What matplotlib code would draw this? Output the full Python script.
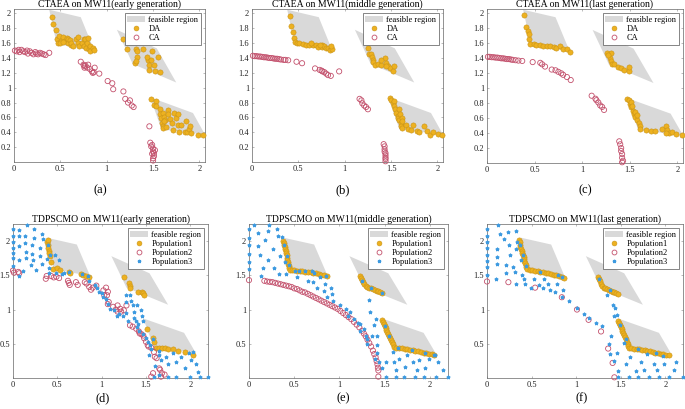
import matplotlib
matplotlib.use('Agg')
import matplotlib.pyplot as plt
from matplotlib.patches import Polygon, Patch

plt.rcParams['font.family'] = ['Liberation Serif', 'DejaVu Serif']

# feasible region of MW11 (three patches)
region1 = [(0.38, 2.05), (0.72, 1.95), (0.87, 1.49), (0.46, 1.59)]
region2 = [(1.11, 1.78), (1.54, 1.53), (1.75, 1.07), (1.28, 1.32)]
region3 = [(1.47, 0.87), (1.93, 0.66), (2.06, 0.37), (1.59, 0.44)]

# ---- (a) CTAEA early generation ----
a_da = [(0.41, 1.955), (0.42, 1.86), (0.45, 1.78), (0.46, 1.65), (0.47, 1.60), (0.49, 1.69),
        (0.51, 1.63), (0.53, 1.68), (0.55, 1.63), (0.57, 1.67), (0.58, 1.60), (0.58, 1.65),
        (0.60, 1.64), (0.61, 1.58), (0.62, 1.60), (0.64, 1.56), (0.67, 1.65), (0.69, 1.60),
        (0.69, 1.68), (0.70, 1.56), (0.73, 1.60), (0.75, 1.66), (0.76, 1.56), (0.77, 1.65),
        (0.78, 1.54), (0.79, 1.60), (0.81, 1.52), (0.82, 1.56), (0.82, 1.50), (0.85, 1.54),
        (0.86, 1.51), (0.80, 1.67), (0.50, 1.60), (0.53, 1.61),
        (1.18, 1.66), (1.25, 1.65), (1.22, 1.52), (1.32, 1.52), (1.33, 1.49), (1.39, 1.52),
        (1.33, 1.42), (1.31, 1.33), (1.32, 1.36), (1.44, 1.38), (1.43, 1.41), (1.49, 1.49),
        (1.48, 1.38), (1.46, 1.30), (1.46, 1.24), (1.51, 1.30), (1.52, 1.23), (1.57, 1.21),
        (1.55, 1.42),
        (1.48, 0.85), (1.51, 0.77), (1.53, 0.82), (1.53, 0.76), (1.57, 0.71), (1.58, 0.64),
        (1.59, 0.59), (1.60, 0.53), (1.61, 0.49), (1.61, 0.46), (1.61, 0.66), (1.62, 0.61),
        (1.63, 0.57), (1.62, 0.55), (1.64, 0.47), (1.66, 0.70), (1.66, 0.65), (1.68, 0.58),
        (1.70, 0.52), (1.71, 0.43), (1.73, 0.66), (1.75, 0.59), (1.77, 0.50), (1.78, 0.41),
        (1.80, 0.50), (1.84, 0.41), (1.86, 0.55), (1.87, 0.41), (1.89, 0.45), (1.90, 0.48),
        (1.91, 0.39), (1.98, 0.37), (2.04, 0.37), (1.77, 0.65)]
a_ca = [(0.01, 1.50), (0.03, 1.49), (0.05, 1.51), (0.06, 1.48), (0.08, 1.51), (0.10, 1.49),
        (0.12, 1.48), (0.14, 1.50), (0.15, 1.46), (0.17, 1.49), (0.19, 1.47), (0.21, 1.45),
        (0.23, 1.48), (0.24, 1.46), (0.26, 1.45), (0.28, 1.47), (0.30, 1.46), (0.32, 1.45),
        (0.34, 1.44), (0.38, 1.47),
        (0.72, 1.35), (0.75, 1.31), (0.76, 1.29), (0.77, 1.30), (0.79, 1.27), (0.80, 1.31),
        (0.82, 1.25), (0.84, 1.22), (0.86, 1.21), (0.87, 1.27), (0.92, 1.19), (0.76, 1.27),
        (0.85, 1.20),
        (1.01, 1.09), (1.06, 1.06), (1.07, 0.98), (1.18, 0.95), (1.20, 0.85), (1.23, 0.80),
        (1.25, 0.83), (1.27, 0.76), (1.29, 0.74),
        (1.46, 0.48), (1.47, 0.26), (1.49, 0.23), (1.50, 0.18), (1.48, 0.21), (1.50, 0.14),
        (1.49, 0.11), (1.51, 0.08), (1.50, 0.05), (1.50, 0.02), (1.52, 0.16), (1.51, 0.12)]

# ---- (b) CTAEA middle generation ----
b_da = [(0.405, 1.97), (0.42, 1.83), (0.44, 1.75), (0.45, 1.67), (0.46, 1.62), (0.48, 1.60),
        (0.51, 1.60), (0.55, 1.59), (0.58, 1.58), (0.62, 1.58), (0.66, 1.58), (0.69, 1.58),
        (0.71, 1.55), (0.75, 1.57), (0.76, 1.55), (0.78, 1.56), (0.80, 1.54), (0.82, 1.53),
        (0.84, 1.51), (0.86, 1.52), (0.85, 1.56), (0.73, 1.58), (0.64, 1.60),
        (1.25, 1.53), (1.26, 1.46), (1.28, 1.46), (1.29, 1.42), (1.30, 1.37), (1.31, 1.35),
        (1.33, 1.31), (1.36, 1.32), (1.39, 1.31), (1.43, 1.40), (1.45, 1.33), (1.47, 1.29),
        (1.49, 1.26), (1.52, 1.23), (1.53, 1.29), (1.45, 1.29), (1.39, 1.37),
        (1.49, 0.86), (1.50, 0.84), (1.52, 0.79), (1.53, 0.82), (1.53, 0.75), (1.54, 0.71),
        (1.55, 0.66), (1.57, 0.62), (1.58, 0.59), (1.59, 0.56), (1.61, 0.53), (1.61, 0.49),
        (1.62, 0.46), (1.59, 0.71), (1.60, 0.65), (1.62, 0.59), (1.66, 0.50), (1.68, 0.44),
        (1.71, 0.43), (1.74, 0.50), (1.78, 0.42), (1.80, 0.40), (1.86, 0.49), (1.89, 0.42),
        (1.92, 0.37), (1.95, 0.40), (2.01, 0.38), (2.05, 0.37), (1.62, 0.55)]
b_ca = [(0.01, 1.43), (0.03, 1.425), (0.05, 1.425), (0.07, 1.42), (0.09, 1.42), (0.11, 1.415),
        (0.13, 1.41), (0.15, 1.41), (0.17, 1.405), (0.19, 1.40), (0.21, 1.40), (0.23, 1.395),
        (0.25, 1.39), (0.27, 1.39), (0.29, 1.385), (0.31, 1.38), (0.34, 1.375), (0.36, 1.375),
        (0.39, 1.37), (0.48, 1.35), (0.54, 1.33),
        (0.68, 1.26), (0.73, 1.24), (0.75, 1.23), (0.76, 1.22), (0.78, 1.21), (0.80, 1.19),
        (0.82, 1.17), (0.85, 1.16), (0.94, 1.22),
        (1.16, 0.85), (1.18, 0.83), (1.19, 0.79), (1.21, 0.76), (1.23, 0.74), (1.25, 0.71),
        (1.42, 0.24), (1.43, 0.21), (1.43, 0.17), (1.44, 0.12), (1.44, 0.09), (1.44, 0.04),
        (1.44, 0.01), (1.43, 0.14), (1.44, 0.06)]

# ---- (c) CTAEA last generation ----
c_da = [(0.39, 1.98), (0.41, 1.82), (0.43, 1.76), (0.44, 1.66), (0.45, 1.59), (0.49, 1.59),
        (0.52, 1.58), (0.56, 1.58), (0.59, 1.57), (0.63, 1.56), (0.66, 1.56), (0.70, 1.55),
        (0.73, 1.54), (0.77, 1.56), (0.80, 1.53), (0.84, 1.52), (0.87, 1.49), (0.44, 1.73),
        (1.26, 1.47), (1.30, 1.47), (1.29, 1.40), (1.30, 1.36), (1.31, 1.32), (1.34, 1.32),
        (1.38, 1.29), (1.41, 1.27), (1.44, 1.25), (1.49, 1.23), (1.49, 1.28), (1.27, 1.44),
        (1.47, 0.86), (1.49, 0.84), (1.50, 0.79), (1.51, 0.75), (1.53, 0.70), (1.54, 0.66),
        (1.56, 0.62), (1.58, 0.57), (1.60, 0.53), (1.61, 0.50), (1.61, 0.46), (1.51, 0.81),
        (1.52, 0.76), (1.56, 0.68), (1.58, 0.64), (1.67, 0.44), (1.72, 0.43), (1.77, 0.43),
        (1.84, 0.45), (1.88, 0.49), (1.89, 0.44), (1.91, 0.40), (1.94, 0.41), (1.99, 0.39),
        (2.05, 0.37), (1.88, 0.40)]
c_ca = [(0.01, 1.42), (0.03, 1.42), (0.05, 1.415), (0.07, 1.415), (0.09, 1.41), (0.11, 1.41),
        (0.13, 1.405), (0.15, 1.40), (0.17, 1.40), (0.19, 1.395), (0.21, 1.39), (0.23, 1.39),
        (0.25, 1.385), (0.27, 1.38), (0.30, 1.375), (0.33, 1.37), (0.37, 1.365),
        (0.48, 1.35), (0.56, 1.34), (0.58, 1.32), (0.61, 1.29), (0.68, 1.25), (0.72, 1.24),
        (0.75, 1.22), (0.78, 1.20), (0.80, 1.18), (0.84, 1.15), (0.88, 1.11),
        (1.10, 0.90), (1.14, 0.86), (1.15, 0.84), (1.17, 0.81), (1.19, 0.77), (1.21, 0.75),
        (1.23, 0.71),
        (1.39, 0.29), (1.40, 0.25), (1.41, 0.20), (1.41, 0.16), (1.42, 0.12), (1.42, 0.07),
        (1.43, 0.03), (1.42, 0.01)]

# ---- (d) TDPSCMO early generation ----
d_p1 = [(0.38, 1.98), (0.39, 2.01), (0.39, 1.94), (0.40, 1.90), (0.41, 1.86), (0.41, 1.83),
        (0.42, 1.78), (0.43, 1.70), (0.45, 1.59), (0.50, 1.61), (0.53, 1.58), (0.63, 1.55),
        (0.64, 1.54), (0.77, 1.52), (0.79, 1.51), (0.82, 1.49), (0.86, 1.48),
        (1.25, 1.48), (1.31, 1.39), (1.32, 1.35), (1.32, 1.32), (1.41, 1.26), (1.45, 1.25),
        (1.47, 1.24), (1.48, 1.21),
        (1.51, 0.72), (1.58, 0.58), (1.59, 0.53), (1.61, 0.44), (1.65, 0.44), (1.68, 0.44),
        (1.71, 0.44), (1.75, 0.43), (1.80, 0.42), (1.86, 0.40), (1.94, 0.38), (2.03, 0.34)]
d_p2 = [(0.00, 1.57), (0.01, 1.54), (0.06, 1.55), (0.07, 1.53), (0.37, 1.45), (0.38, 1.49),
        (0.43, 1.49), (0.46, 1.47), (0.49, 1.48), (0.52, 1.46), (0.62, 1.42), (0.63, 1.39),
        (0.64, 1.36), (0.71, 1.40), (0.73, 1.36), (0.81, 1.40), (0.83, 1.38), (0.86, 1.33),
        (0.88, 1.29), (0.90, 1.32), (0.94, 1.35), (1.02, 1.28), (1.03, 1.21), (1.05, 1.32),
        (1.07, 1.26), (1.06, 1.21), (1.08, 1.11), (1.07, 1.08), (1.13, 1.04), (1.16, 1.00),
        (1.18, 0.97), (1.18, 1.06), (1.22, 0.97), (1.25, 0.99), (1.28, 1.06), (1.21, 1.01),
        (1.32, 0.77), (1.35, 0.75), (1.39, 0.72), (1.42, 0.68), (1.43, 0.65), (1.45, 0.64),
        (1.47, 0.62), (1.48, 0.58), (1.50, 0.53), (1.52, 0.48), (1.56, 0.44), (1.59, 0.38),
        (1.60, 0.31), (1.62, 0.29), (1.58, 0.07), (1.65, 0.14), (1.66, 0.12), (1.68, 0.07),
        (1.71, 0.05), (1.67, 0.02), (1.56, 0.02), (1.53, 0.46)]
d_p3 = [(0.00, 2.17), (0.00, 2.07), (0.00, 1.99), (0.00, 1.90), (0.00, 1.83), (0.00, 1.76),
        (0.00, 1.64), (0.07, 2.16), (0.07, 2.08), (0.07, 1.93), (0.07, 1.73), (0.07, 1.49),
        (0.14, 2.08), (0.14, 1.97), (0.15, 1.84), (0.15, 1.76), (0.16, 2.23), (0.21, 1.95),
        (0.21, 1.81), (0.20, 1.65), (0.23, 1.73), (0.24, 2.17), (0.24, 2.05), (0.26, 1.58),
        (0.30, 1.90), (0.31, 1.78), (0.33, 2.11), (0.34, 2.03), (0.33, 1.66), (0.38, 1.74),
        (0.41, 1.61), (0.41, 1.53), (0.11, 1.57), (0.47, 1.79), (0.48, 1.54), (0.52, 1.72),
        (0.55, 1.52), (0.58, 1.54), (0.63, 1.55), (0.78, 1.52), (0.85, 1.49), (0.86, 1.41),
        (0.93, 1.36), (0.95, 1.32), (0.97, 1.26), (1.00, 1.24), (1.02, 1.19), (1.05, 1.15),
        (1.07, 1.08), (1.09, 1.01), (1.14, 0.99), (1.17, 0.91), (1.20, 0.94), (1.24, 0.91),
        (1.28, 0.95), (1.27, 1.21), (1.28, 1.11), (1.32, 1.21), (1.33, 1.12), (1.35, 1.06),
        (1.36, 0.96), (1.37, 0.88), (1.39, 0.84), (1.40, 1.06), (1.44, 1.00), (1.45, 0.91),
        (1.47, 0.84), (1.41, 0.79), (1.30, 0.84), (1.40, 0.75), (1.42, 0.68), (1.47, 0.65),
        (1.50, 0.58), (1.52, 0.53), (1.54, 0.48), (1.56, 0.42), (1.53, 0.34), (1.65, 0.34),
        (1.67, 0.26), (1.73, 0.31), (1.75, 0.20), (1.80, 0.36), (1.84, 0.24), (1.90, 0.31),
        (1.94, 0.14), (1.98, 0.36), (2.01, 0.26), (2.03, 0.38), (2.07, 0.20), (2.09, 0.09),
        (2.11, 0.02), (2.20, 0.02), (2.00, 0.02), (1.84, 0.02), (1.75, 0.02), (1.59, 0.02),
        (1.65, 0.05), (1.60, 0.17), (1.65, 0.39), (1.58, 0.57), (0.39, 1.95), (0.42, 1.80)]

# ---- (e) TDPSCMO middle generation ----
e_p1 = [(0.38, 2.00), (0.385, 1.97), (0.39, 1.94), (0.395, 1.91), (0.40, 1.88), (0.405, 1.85),
        (0.41, 1.82), (0.415, 1.79), (0.42, 1.76), (0.425, 1.73), (0.43, 1.70), (0.435, 1.67),
        (0.44, 1.64), (0.445, 1.61), (0.45, 1.585), (0.47, 1.58), (0.50, 1.575), (0.53, 1.57),
        (0.56, 1.565), (0.59, 1.56), (0.62, 1.555), (0.65, 1.55), (0.68, 1.545), (0.71, 1.54),
        (0.74, 1.53), (0.77, 1.52), (0.80, 1.51), (0.83, 1.50), (0.86, 1.485),
        (1.23, 1.49), (1.24, 1.46), (1.25, 1.43), (1.26, 1.40), (1.27, 1.37), (1.29, 1.345),
        (1.31, 1.33), (1.33, 1.32), (1.35, 1.31), (1.37, 1.30), (1.39, 1.29), (1.41, 1.275),
        (1.43, 1.265), (1.45, 1.25), (1.47, 1.24),
        (1.47, 0.85), (1.48, 0.82), (1.49, 0.79), (1.50, 0.76), (1.51, 0.73), (1.52, 0.70),
        (1.53, 0.67), (1.54, 0.64), (1.55, 0.61), (1.56, 0.58), (1.57, 0.55), (1.58, 0.52),
        (1.59, 0.49), (1.60, 0.46), (1.63, 0.445), (1.66, 0.44), (1.69, 0.435), (1.72, 0.43),
        (1.75, 0.42), (1.78, 0.415), (1.81, 0.41), (1.84, 0.40), (1.87, 0.39), (1.90, 0.38),
        (1.93, 0.37), (1.96, 0.36), (1.99, 0.355), (2.02, 0.345), (2.04, 0.34)]
e_p2 = [(0.00, 1.43), (0.17, 1.42), (0.20, 1.41), (0.23, 1.405), (0.26, 1.40), (0.29, 1.39),
        (0.32, 1.38), (0.35, 1.37), (0.38, 1.36), (0.41, 1.35), (0.44, 1.34), (0.47, 1.33),
        (0.50, 1.31), (0.53, 1.30), (0.56, 1.28), (0.59, 1.26), (0.62, 1.25), (0.65, 1.23),
        (0.68, 1.21), (0.71, 1.19), (0.74, 1.17), (0.77, 1.15), (0.80, 1.13), (0.83, 1.11),
        (0.86, 1.09), (0.89, 1.07), (0.92, 1.05), (0.95, 1.03), (0.98, 1.01), (1.01, 0.98),
        (1.04, 0.95), (1.07, 0.92), (1.10, 0.89), (1.13, 0.86), (1.16, 0.82), (1.19, 0.78),
        (1.22, 0.74), (1.25, 0.69), (1.27, 0.65), (1.29, 0.61), (1.31, 0.56), (1.33, 0.51),
        (1.35, 0.46), (1.37, 0.40), (1.385, 0.35), (1.40, 0.30), (1.41, 0.25), (1.42, 0.20),
        (1.425, 0.15), (1.43, 0.11), (1.43, 0.02)]
e_p3 = [(0.00, 2.17), (0.00, 2.05), (0.00, 1.94), (0.00, 1.81), (0.00, 1.69), (0.00, 1.59),
        (0.06, 2.24), (0.10, 2.12), (0.10, 1.93), (0.12, 1.79), (0.13, 1.49), (0.16, 1.60),
        (0.18, 2.02), (0.21, 1.73), (0.22, 2.24), (0.21, 2.15), (0.27, 1.88), (0.28, 1.61),
        (0.31, 2.17), (0.32, 2.07), (0.33, 1.52), (0.34, 1.78), (0.37, 2.06), (0.40, 1.69),
        (0.41, 1.52), (0.51, 1.56), (0.53, 1.47), (0.62, 1.56), (0.65, 1.42), (0.71, 1.40),
        (0.70, 1.56), (0.75, 1.32), (0.79, 1.47), (0.83, 1.27), (0.84, 1.37), (0.86, 1.18),
        (0.91, 1.31), (0.92, 1.23), (0.93, 1.13), (1.01, 1.06), (1.07, 1.01), (1.09, 0.91),
        (1.12, 0.96), (1.16, 0.86), (1.20, 0.81), (1.23, 0.79), (1.23, 0.69), (1.27, 0.72),
        (1.29, 0.62), (1.31, 0.57), (1.31, 0.50), (1.34, 0.96), (1.36, 0.62), (1.38, 0.77),
        (1.41, 0.48), (1.42, 0.62), (1.40, 0.86), (1.33, 1.14), (1.42, 0.36), (1.39, 0.28),
        (1.44, 0.23), (1.47, 0.14), (1.51, 0.23), (1.59, 0.38), (1.60, 0.23), (1.63, 0.11),
        (1.66, 0.28), (1.73, 0.16), (1.75, 0.33), (1.81, 0.23), (1.86, 0.11), (1.88, 0.27),
        (1.95, 0.15), (1.99, 0.28), (2.06, 0.33), (2.09, 0.23), (2.15, 0.11), (2.20, 0.02),
        (2.07, 0.02), (1.94, 0.02), (1.83, 0.02), (1.71, 0.02), (1.62, 0.02), (1.51, 0.02),
        (0.39, 1.95), (0.42, 1.78), (0.44, 1.65), (0.55, 1.57), (0.72, 1.54), (0.85, 1.49),
        (1.25, 1.42), (1.35, 1.31), (1.47, 1.24), (1.50, 0.76), (1.55, 0.61), (1.65, 0.44),
        (1.80, 0.41), (1.95, 0.36), (2.04, 0.34)]

# ---- (f) TDPSCMO last generation ----
f_p1 = [(0.36, 2.01), (0.365, 1.98), (0.37, 1.95), (0.375, 1.92), (0.38, 1.89), (0.39, 1.86),
        (0.395, 1.83), (0.40, 1.80), (0.41, 1.77), (0.415, 1.74), (0.42, 1.71), (0.43, 1.68),
        (0.435, 1.65), (0.44, 1.62), (0.45, 1.59), (0.48, 1.58), (0.51, 1.575), (0.54, 1.57),
        (0.57, 1.56), (0.60, 1.555), (0.63, 1.55), (0.66, 1.54), (0.69, 1.53), (0.72, 1.52),
        (0.75, 1.51), (0.78, 1.50), (0.81, 1.49), (0.84, 1.475), (0.86, 1.46),
        (1.25, 1.48), (1.26, 1.45), (1.27, 1.41), (1.28, 1.37), (1.29, 1.34), (1.31, 1.32),
        (1.33, 1.31), (1.35, 1.30), (1.37, 1.29), (1.39, 1.27), (1.41, 1.26), (1.43, 1.25),
        (1.45, 1.235), (1.47, 1.22),
        (1.47, 0.84), (1.48, 0.81), (1.49, 0.78), (1.50, 0.75), (1.51, 0.72), (1.52, 0.69),
        (1.53, 0.66), (1.54, 0.63), (1.55, 0.60), (1.56, 0.57), (1.57, 0.53), (1.58, 0.50),
        (1.585, 0.47), (1.59, 0.44), (1.62, 0.435), (1.65, 0.43), (1.68, 0.425), (1.71, 0.42),
        (1.74, 0.41), (1.77, 0.405), (1.80, 0.40), (1.83, 0.39), (1.86, 0.38), (1.89, 0.37),
        (1.92, 0.36), (1.95, 0.355), (1.98, 0.35), (2.01, 0.34), (2.04, 0.33)]
f_p2 = [(0.00, 1.41), (0.24, 1.40), (0.54, 1.32), (0.84, 1.18), (1.01, 1.00), (1.14, 0.85),
        (1.28, 0.68), (1.36, 0.43), (1.41, 0.22), (1.43, 0.01)]
f_p3 = [(0.00, 2.18), (0.00, 2.08), (0.00, 1.99), (0.00, 1.90), (0.00, 1.80), (0.00, 1.71),
        (0.00, 1.62), (0.00, 1.50), (0.12, 2.24), (0.11, 1.89), (0.11, 1.77), (0.11, 1.67),
        (0.10, 1.45), (0.15, 2.11), (0.19, 2.03), (0.21, 1.65), (0.21, 1.53), (0.24, 2.14),
        (0.25, 1.94), (0.26, 1.79), (0.29, 1.62), (0.31, 1.55), (0.33, 2.15), (0.33, 1.38),
        (0.34, 1.99), (0.32, 1.89), (0.38, 1.72), (0.39, 1.50), (0.41, 1.45), (0.43, 1.38),
        (0.49, 1.31), (0.53, 1.45), (0.58, 1.36), (0.63, 1.31), (0.64, 1.45), (0.68, 1.38),
        (0.71, 1.29), (0.76, 1.26), (0.79, 1.38), (0.84, 1.19), (0.84, 1.48), (0.85, 1.29),
        (0.92, 1.12), (1.01, 1.02), (1.09, 0.93), (1.14, 0.88), (1.22, 0.80), (1.29, 0.76),
        (1.35, 1.21), (1.41, 1.07), (1.44, 1.02), (1.43, 0.90), (1.46, 0.92), (1.39, 0.61),
        (1.37, 0.49), (1.38, 0.35), (1.43, 0.25), (1.46, 0.37), (1.47, 0.10), (1.47, 0.01),
        (1.54, 0.51), (1.56, 0.20), (1.59, 0.01), (1.61, 0.30), (1.67, 0.10), (1.69, 0.01),
        (1.73, 0.23), (1.76, 0.12), (1.80, 0.35), (1.82, 0.01), (1.88, 0.21), (1.91, 0.11),
        (1.93, 0.01), (1.99, 0.21), (2.04, 0.01), (2.10, 0.11), (2.12, 0.23), (2.20, 0.01),
        (1.97, 0.32), (0.37, 1.95), (0.40, 1.80), (0.44, 1.63), (0.60, 1.555), (0.80, 1.50),
        (1.26, 1.44), (1.38, 1.28), (1.49, 0.78), (1.56, 0.57), (1.70, 0.42), (1.90, 0.37)]

titles = ['CTAEA on MW11(early generation)', 'CTAEA on MW11(middle generation)',
          'CTAEA on MW11(last generation)', 'TDPSCMO on MW11(early generation)',
          'TDPSCMO on MW11(middle generation)', 'TDPSCMO on MW11(last generation)']
panel_tags = ['(a)', '(b)', '(c)', '(d)', '(e)', '(f)']

orange = '#EDB120'
orange_edge = '#C99418'
red = '#C3506C'
blue = '#3D9AE0'
gray = '#D9D9D9'

W, H = 685, 409
fig = plt.figure(figsize=(W / 100, H / 100), dpi=100)

# axes boxes in pixels: left, top, right, bottom
boxes = [(14, 9, 205, 162), (252, 9, 443, 162), (487, 9, 683, 163),
         (13, 224, 208, 378), (249, 224, 448, 378), (487, 224, 683, 378)]
tag_pos = [(100, 190), (343, 190), (585, 190), (103, 398), (343, 398), (582, 398)]


def make_axes(box):
    l, t, r, b = box
    return fig.add_axes([l / W, 1 - b / H, (r - l) / W, (b - t) / H])


def style(ax, top_row):
    ax.set_facecolor('white')
    for s in ax.spines.values():
        s.set_linewidth(0.5)
        s.set_color('#666666')
    ax.tick_params(direction='in', length=1.5, width=0.4, labelsize=6, pad=2,
                   top=True, right=True, color='#888888', labelcolor='#222222')
    if top_row:
        ax.set_xlim(0, 2.06)
        ax.set_ylim(0, 2.06)
        ax.set_xticks([0, 0.5, 1, 1.5, 2])
        ax.set_xticklabels(['0', '0.5', '1', '1.5', '2'])
        ax.set_yticks([0.2, 0.4, 0.6, 0.8, 1, 1.2, 1.4, 1.6, 1.8, 2])
        ax.set_yticklabels(['0.2', '0.4', '0.6', '0.8', '1', '1.2', '1.4', '1.6', '1.8', '2'])
    else:
        ax.set_xlim(0, 2.2)
        ax.set_ylim(0, 2.25)
        ax.set_xticks([0, 0.5, 1, 1.5, 2])
        ax.set_xticklabels(['0', '0.5', '1', '1.5', '2'])
        ax.set_yticks([0.5, 1, 1.5, 2])
        ax.set_yticklabels(['0.5', '1', '1.5', '2'])


def draw_regions(ax):
    for reg in (region1, region2, region3):
        ax.add_patch(Polygon(reg, closed=True, facecolor=gray, edgecolor='none', zorder=1))


def xs(pts):
    return [p[0] for p in pts]


def ys(pts):
    return [p[1] for p in pts]


ctaea = [(a_da, a_ca), (b_da, b_ca), (c_da, c_ca)]
tdp = [(d_p1, d_p2, d_p3), (e_p1, e_p2, e_p3), (f_p1, f_p2, f_p3)]

for i in range(6):
    ax = make_axes(boxes[i])
    top = i < 3
    style(ax, top)
    draw_regions(ax)
    if top:
        da, ca = ctaea[i]
        ax.scatter(xs(da), ys(da), s=14, c=orange, edgecolors=orange_edge, linewidths=0.4,
                   zorder=3, clip_on=False)
        ax.scatter(xs(ca), ys(ca), s=14, facecolors='none', edgecolors=red, linewidths=0.6,
                   zorder=3, clip_on=False)
        handles = [Patch(facecolor=gray, edgecolor='none', label='feasible region'),
                   plt.Line2D([], [], ls='none', marker='o', ms=3.5, mfc=orange,
                              mec=orange_edge, mew=0.4, label='DA'),
                   plt.Line2D([], [], ls='none', marker='o', ms=3.5, mfc='none',
                              mec=red, mew=0.6, label='CA')]
    else:
        p1, p2, p3 = tdp[i - 3]
        ax.scatter(xs(p1), ys(p1), s=14, c=orange, edgecolors=orange_edge, linewidths=0.4,
                   zorder=3, clip_on=False)
        ax.scatter(xs(p2), ys(p2), s=14, facecolors='none', edgecolors=red, linewidths=0.6,
                   zorder=3, clip_on=False)
        ax.scatter(xs(p3), ys(p3), s=5, marker='*', c=blue, edgecolors=blue, linewidths=0.9,
                   zorder=4, clip_on=False)
        handles = [Patch(facecolor=gray, edgecolor='none', label='feasible region'),
                   plt.Line2D([], [], ls='none', marker='o', ms=3.5, mfc=orange,
                              mec=orange_edge, mew=0.4, label='Population1'),
                   plt.Line2D([], [], ls='none', marker='o', ms=3.5, mfc='none',
                              mec=red, mew=0.6, label='Population2'),
                   plt.Line2D([], [], ls='none', marker='*', ms=2.4, mfc=blue,
                              mec=blue, mew=0.9, label='Population3')]
    leg = ax.legend(handles=handles, loc='upper right', fontsize=6, frameon=True,
                    fancybox=False, edgecolor='#555555', framealpha=1,
                    borderaxespad=0.5, borderpad=0.3, labelspacing=0.15,
                    handlelength=2.1, handletextpad=0.45)
    leg.get_frame().set_linewidth(0.5)
    ax.set_title(titles[i], fontsize=7, pad=1.5)
    tx, ty = tag_pos[i]
    fig.text(tx / W, 1 - ty / H, panel_tags[i], fontsize=9, ha='center', va='center')

fig.savefig('out.png', dpi=100)
